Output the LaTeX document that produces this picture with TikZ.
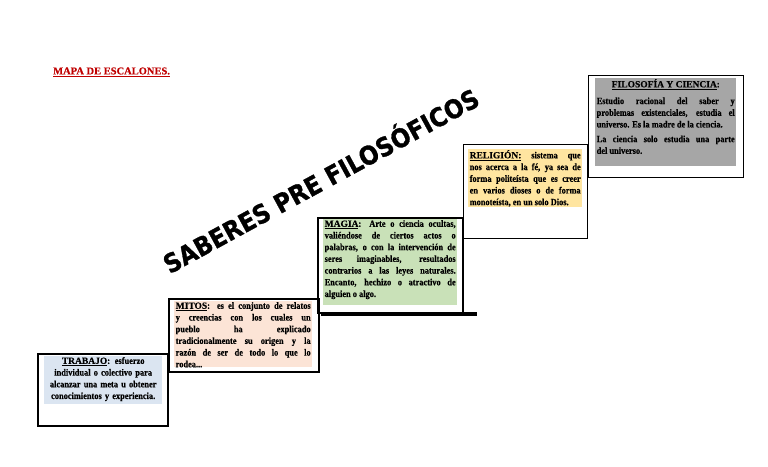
\documentclass[tikz,border=0pt]{standalone}
\usepackage{fontspec}
\setmainfont{Liberation Serif}
\newfontfamily\bodyfont{Liberation Serif}[FakeStretch=0.88, FakeBold=0.4]
\newfontfamily\headfont{Liberation Serif}[FakeBold=0.3]
\newfontfamily\titlefont{DejaVu Sans}[UprightFont=* Bold, FakeBold=1.2]
\definecolor{cTrab}{HTML}{DBE5F1}
\definecolor{cMitos}{HTML}{FCE4D6}
\definecolor{cMagia}{HTML}{C9E1B8}
\definecolor{cRelig}{HTML}{FFE5A0}
\definecolor{cFilo}{HTML}{A6A6A6}
\definecolor{cRed}{HTML}{C00000}
\newcommand\txtfont{\bodyfont\fontsize{9.5}{11.7}\selectfont\bfseries}
\newcommand\hd[1]{{\headfont\bfseries\underline{#1}}}
\begin{document}
\begin{tikzpicture}[x=1pt,y=-1pt,
  boxthick/.style={draw=black, line width=2.2pt, anchor=north west, inner sep=0pt},
  boxthin/.style={draw=black, line width=1.2pt, anchor=north west, inner sep=0pt},
  shadebox/.style={anchor=north west, inner sep=0pt, draw=none},
  txtbox/.style={anchor=north west, inner xsep=1.5pt, inner ysep=1pt, align=justify, font=\txtfont}]
\useasboundingbox (0,0) rectangle (768,466);
\fill[white] (0,0) rectangle (768,466);

% title
\node[anchor=west, inner sep=0pt, text=cRed, font=\headfont\fontsize{10.5}{12}\selectfont\bfseries] (mapa) at (53,72) {\underline{MAPA DE ESCALONES.}};

\node[font=\titlefont\fontsize{23}{23}\selectfont, rotate=28.6, yscale=1.12] (titulo) at (320,179) {SABERES PRE FILOSÓFICOS};

% TRABAJO
\node[boxthick, minimum width=130pt, minimum height=72pt] (trabajo) at (37,353) {};
\node[shadebox, fill=cTrab, minimum width=118pt, minimum height=48pt] (trabajoS) at (44,356) {};
\node[txtbox, text width=115pt, align=center] (trabajoT) at (trabajoS.north west) {\hd{TRABAJO}: esfuerzo\\ individual o colectivo para\\ alcanzar una meta u obtener\\ conocimientos y experiencia.};

% MITOS
\node[boxthick, minimum width=150pt, minimum height=73pt] (mitos) at (168,298) {};
\node[shadebox, fill=cMitos, minimum width=138pt, minimum height=66pt] (mitosS) at (174,301) {};
\begin{scope}
\clip (mitosS.north west) rectangle (mitosS.south east);
\node[txtbox, text width=135pt] (mitosT) at (mitosS.north west) {\hd{MITOS}: es el conjunto de relatos\linebreak y creencias con los cuales un\linebreak pueblo ha explicado\linebreak tradicionalmente su origen y la\linebreak razón de ser de todo lo que lo\linebreak rodea...};
\end{scope}

% MAGIA
\node[boxthick, minimum width=145pt, minimum height=95pt] (magia) at (317,217) {};
\node[shadebox, fill=cMagia, minimum width=134pt, minimum height=86pt] (magiaS) at (323,219) {};
\node[txtbox, text width=131pt] (magiaT) at (magiaS.north west) {\hd{MAGIA}: Arte o ciencia ocultas,\linebreak valiéndose de ciertos actos o\linebreak palabras, o con la intervención de\linebreak seres imaginables, resultados\linebreak contrarios a las leyes naturales.\linebreak Encanto, hechizo o atractivo de\linebreak alguien o algo.};
\coordinate (s1) at (321,314);
\coordinate (s2) at (477,314);
\draw[line width=3.5pt] (s1) -- (s2);

% RELIGION
\node[boxthin, minimum width=124pt, minimum height=94pt] (relig) at (463,144) {};
\node[shadebox, fill=cRelig, minimum width=114pt, minimum height=58pt] (religS) at (468,149) {};
\node[txtbox, text width=111pt] (religT) at (religS.north west) {\hd{RELIGIÓN:} sistema que\linebreak nos acerca a la fé, ya sea de\linebreak forma politeísta que es creer\linebreak en varios dioses o de forma\linebreak monoteísta, en un solo Dios.};

% FILOSOFIA
\node[boxthin, minimum width=155pt, minimum height=102pt] (filo) at (588,75) {};
\node[shadebox, fill=cFilo, minimum width=141pt, minimum height=88pt] (filoS) at (595,78) {};
\node[txtbox, text width=138pt] (filoT) at (filoS.north west) {{\centering\hd{FILOSOFÍA Y CIENCIA}:\par}\vspace{5pt}Estudio racional del saber y\linebreak problemas existenciales, estudia el\linebreak universo. Es la madre de la ciencia.\par\vspace{3pt}La ciencia solo estudia una parte\linebreak del universo.\par};
\end{tikzpicture}
\end{document}
